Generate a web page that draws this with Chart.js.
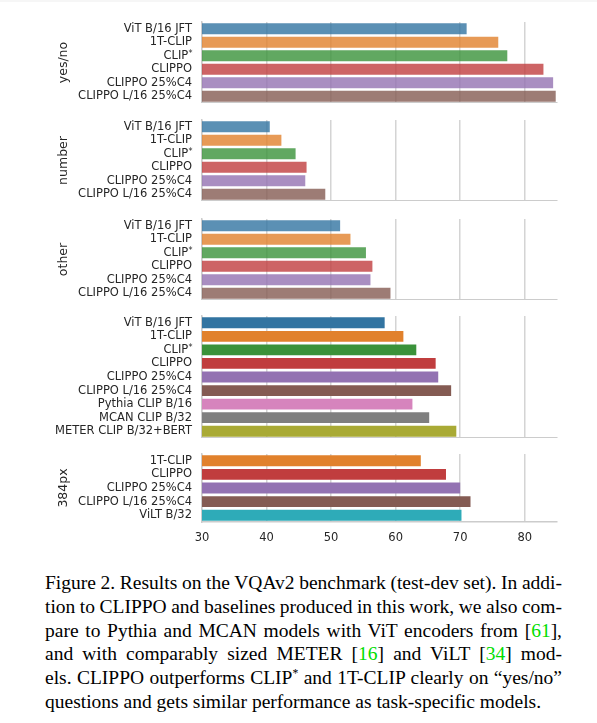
<!DOCTYPE html>
<html>
<head>
<meta charset="utf-8">
<script src="https://cdn.jsdelivr.net/npm/chart.js@4.4.1/dist/chart.umd.min.js"></script>
<style>
  body { margin: 0; background: #fff; width: 597px; height: 723px; position: relative; overflow: hidden; }
  #topline { position: absolute; left: 0; top: 0; width: 597px; height: 2px; background: #f6f6f6; }
  canvas { position: absolute; left: 0; }
  #cap { position: absolute; left: 45px; top: 571px; width: 517px; font-family: "Liberation Serif", serif;
         font-size: 19.5px; line-height: 23.8px; color: #000; }
  #cap div { white-space: pre; }
  .ref { color: #00dd00; }
  sup { font-size: 0.6em; line-height: 0; vertical-align: 0.6em; }
</style>
</head>
<body>
<div id="topline"></div>
<div id="cap">
  <div>Figure 2. Results on the VQAv2 benchmark (test-dev set). In addi-</div>
  <div>tion to CLIPPO and baselines produced in this work, we also com-</div>
  <div>pare to Pythia and MCAN models with ViT encoders from [<span class="ref">61</span>],</div>
  <div>and with comparably sized METER [<span class="ref">16</span>] and ViLT [<span class="ref">34</span>] mod-</div>
  <div>els. CLIPPO outperforms CLIP<sup>*</sup> and 1T-CLIP clearly on “yes/no”</div>
  <div class="last">questions and gets similar performance as task-specific models.</div>
</div>
<script>
// data (VQAv2 test-dev accuracy)
const models = ['ViT B/16 JFT', '1T-CLIP', 'CLIP*', 'CLIPPO', 'CLIPPO 25%C4', 'CLIPPO L/16 25%C4'];
const modelsAll = models.concat(['Pythia CLIP B/16', 'MCAN CLIP B/32', 'METER CLIP B/32+BERT']);
const models384 = ['1T-CLIP', 'CLIPPO', 'CLIPPO 25%C4', 'CLIPPO L/16 25%C4', 'ViLT B/32'];

const yesNo = [71.0, 75.9, 77.3, 82.9, 84.4, 84.8];
const number = [40.5, 42.3, 44.5, 46.2, 46.0, 49.1];
const other = [51.4, 53.0, 55.4, 56.4, 56.1, 59.2];
const overall = [58.3, 61.2, 63.2, 66.2, 66.6, 68.6, 62.6, 65.2, 69.4];
const overall384 = [63.9, 67.8, 70.0, 71.6, 70.2];

const xMin = 30, xMax = 85, xStep = 10;

// seaborn-ish colours per model
const colors = {
  'ViT B/16 JFT': [50, 116, 161],
  '1T-CLIP': [225, 129, 44],
  'CLIP*': [58, 146, 58],
  'CLIPPO': [192, 61, 62],
  'CLIPPO 25%C4': [147, 114, 178],
  'CLIPPO L/16 25%C4': [132, 91, 83],
  'Pythia CLIP B/16': [214, 132, 189],
  'MCAN CLIP B/32': [127, 127, 127],
  'METER CLIP B/32+BERT': [169, 170, 53],
  'ViLT B/32': [46, 171, 184]
};
const col = (name, a) => 'rgba(' + colors[name].join(',') + ',' + a + ')';

const BAND = 13.5;
const TICK_PAD = 10;
const textColor = '#262626';

// labels ending in "*" get the star drawn small and raised, like a superscript
const supStar = {
  id: 'supStar',
  afterDraw(chart) {
    const y = chart.scales.y, ctx = chart.ctx;
    chart.data.labels.forEach((l, i) => {
      if (!l.endsWith('*')) return;
      ctx.save();
      ctx.font = '8px "DejaVu Sans"';
      ctx.fillStyle = textColor;
      ctx.textAlign = 'right';
      ctx.textBaseline = 'alphabetic';
      ctx.fillText('*', y.right - TICK_PAD + 0.5, y.getPixelForValue(i) + 0.5);
      ctx.restore();
    });
  }
};

function panel(top, labels, values, title, alpha, showTicks) {
  const h = labels.length * BAND;
  const xH = showTicks ? 30 : 0;
  const cv = document.createElement('canvas');
  cv.width = 597;
  cv.height = Math.round(h + 2 + xH);
  cv.style.top = (top - 2) + 'px';
  document.body.appendChild(cv);
  new Chart(cv, {
    type: 'bar',
    data: {
      labels: labels,
      datasets: [{
        data: values,
        backgroundColor: labels.map(l => col(l, alpha)),
        borderWidth: 0,
        barPercentage: 0.8,
        categoryPercentage: 1
      }]
    },
    options: {
      indexAxis: 'y',
      responsive: false,
      animation: false,
      layout: { padding: { left: 52, right: 40, top: 2, bottom: 0 } },
      plugins: { legend: { display: false }, tooltip: { enabled: false } },
      scales: {
        x: {
          min: xMin, max: xMax,
          ticks: { display: showTicks, stepSize: xStep, includeBounds: false, padding: 9,
                   color: textColor, font: { family: 'DejaVu Sans', size: 11.5 } },
          grid: { color: '#d4d4d4', lineWidth: 1.5, drawTicks: false },
          border: { color: '#cccccc', width: 1.5 },
          afterFit: s => { s.height = xH; s.paddingLeft = 0; s.paddingRight = 0; }
        },
        y: {
          ticks: {
            autoSkip: false, padding: TICK_PAD, color: textColor,
            font: { family: 'DejaVu Sans', size: 11.5 },
            // leave room for the raised star drawn by the plugin
            callback: function (v) {
              const l = this.getLabelForValue(v);
              return l.endsWith('*') ? l.slice(0, -1) + '\u2004' : l;
            }
          },
          grid: { display: false, drawTicks: false },
          border: { color: '#cccccc', width: 1.5 },
          title: { display: !!title, text: title, color: textColor,
                   font: { family: 'DejaVu Sans', size: 12.5 } },
          afterFit: s => { s.width = 150; s.paddingTop = 0; s.paddingBottom = 0; }
        }
      }
    },
    plugins: [supStar]
  });
}

panel(22, models, yesNo, 'yes/no', 0.8, false);
panel(120, models, number, 'number', 0.8, false);
panel(218.5, models, other, 'other', 0.8, false);
panel(316, modelsAll, overall, '', 1, false);
panel(454, models384, overall384, '384px', 1, true);

// justify caption lines the way LaTeX does (stretch or shrink word spaces)
const capW = 517;
document.querySelectorAll('#cap div').forEach(d => {
  if (d.classList.contains('last')) return;
  const r = document.createRange();
  r.selectNodeContents(d);
  const natural = r.getBoundingClientRect().width;
  const spaces = (d.textContent.match(/ /g) || []).length;
  if (spaces) d.style.wordSpacing = ((capW - natural) / spaces) + 'px';
});
</script>
</body>
</html>
